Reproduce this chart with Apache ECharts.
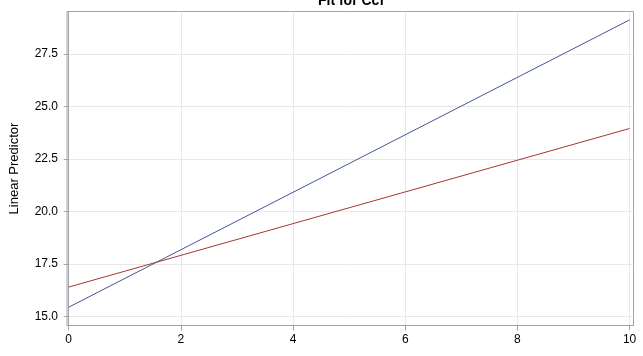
<!DOCTYPE html>
<html>
<head>
<meta charset="utf-8">
<script src="https://cdn.jsdelivr.net/npm/echarts@6/dist/echarts.min.js"></script>
<style>
html,body{margin:0;padding:0;background:#fff;}
#c{width:643px;height:356px;}
</style>
</head>
<body>
<div id="c"></div>
<script>
const xTicks = [0, 2, 4, 6, 8, 10];
const yTicks = [15.0, 17.5, 20.0, 22.5, 25.0, 27.5];
const fitX = [0, 10];
const seriesA = [15.44, 29.12]; // blue
const seriesB = [16.40, 23.95]; // red

const chart = echarts.init(document.getElementById('c'), null, {renderer: 'canvas'});
const font = 'Arial, "Liberation Sans", sans-serif';
chart.setOption({
  animation: false,
  backgroundColor: '#fff',
  title: {
    text: 'Fit for Ccf',
    left: 346, textAlign: 'center',
    top: -11,
    textStyle: {fontFamily: font, fontSize: 14, fontWeight: 'bold', color: '#000'}
  },
  grid: {
    left: 65.5, right: 9.5, top: 11.5, bottom: 30.5,
    show: true, borderColor: '#a0a4a8', borderWidth: 1, backgroundColor: '#fff'
  },
  xAxis: {
    type: 'value', min: -0.03, max: 10.07,
    axisLine: {show: true, lineStyle: {color: '#a0a4a8'}},
    axisTick: {show: true, length: 5, customValues: xTicks, lineStyle: {color: '#a0a4a8'}},
    axisLabel: {customValues: xTicks, margin: 8, fontFamily: font, fontSize: 12, color: '#000'},
    splitLine: {show: true, lineStyle: {color: '#e8e8e8'}}
  },
  yAxis: {
    type: 'value', min: 14.57, max: 29.52,
    name: 'Linear Predictor', nameLocation: 'middle', nameRotate: 90, nameGap: 46,
    nameTextStyle: {fontFamily: font, fontSize: 13, color: '#000'},
    axisLine: {show: true, lineStyle: {color: '#a0a4a8'}},
    axisTick: {show: true, length: 5, customValues: yTicks, lineStyle: {color: '#a0a4a8'}},
    axisLabel: {customValues: yTicks, margin: 9, fontFamily: font, fontSize: 12, color: '#000',
      formatter: v => v.toFixed(1)},
    splitLine: {show: true, lineStyle: {color: '#e8e8e8'}}
  },
  series: [
    {type: 'line', data: fitX.map((x, i) => [x, seriesA[i]]), showSymbol: false,
     lineStyle: {color: '#445694', width: 1}, z: 3},
    {type: 'line', data: fitX.map((x, i) => [x, seriesB[i]]), showSymbol: false,
     lineStyle: {color: '#A23A2E', width: 1}, z: 3}
  ]
});
</script>
</body>
</html>
